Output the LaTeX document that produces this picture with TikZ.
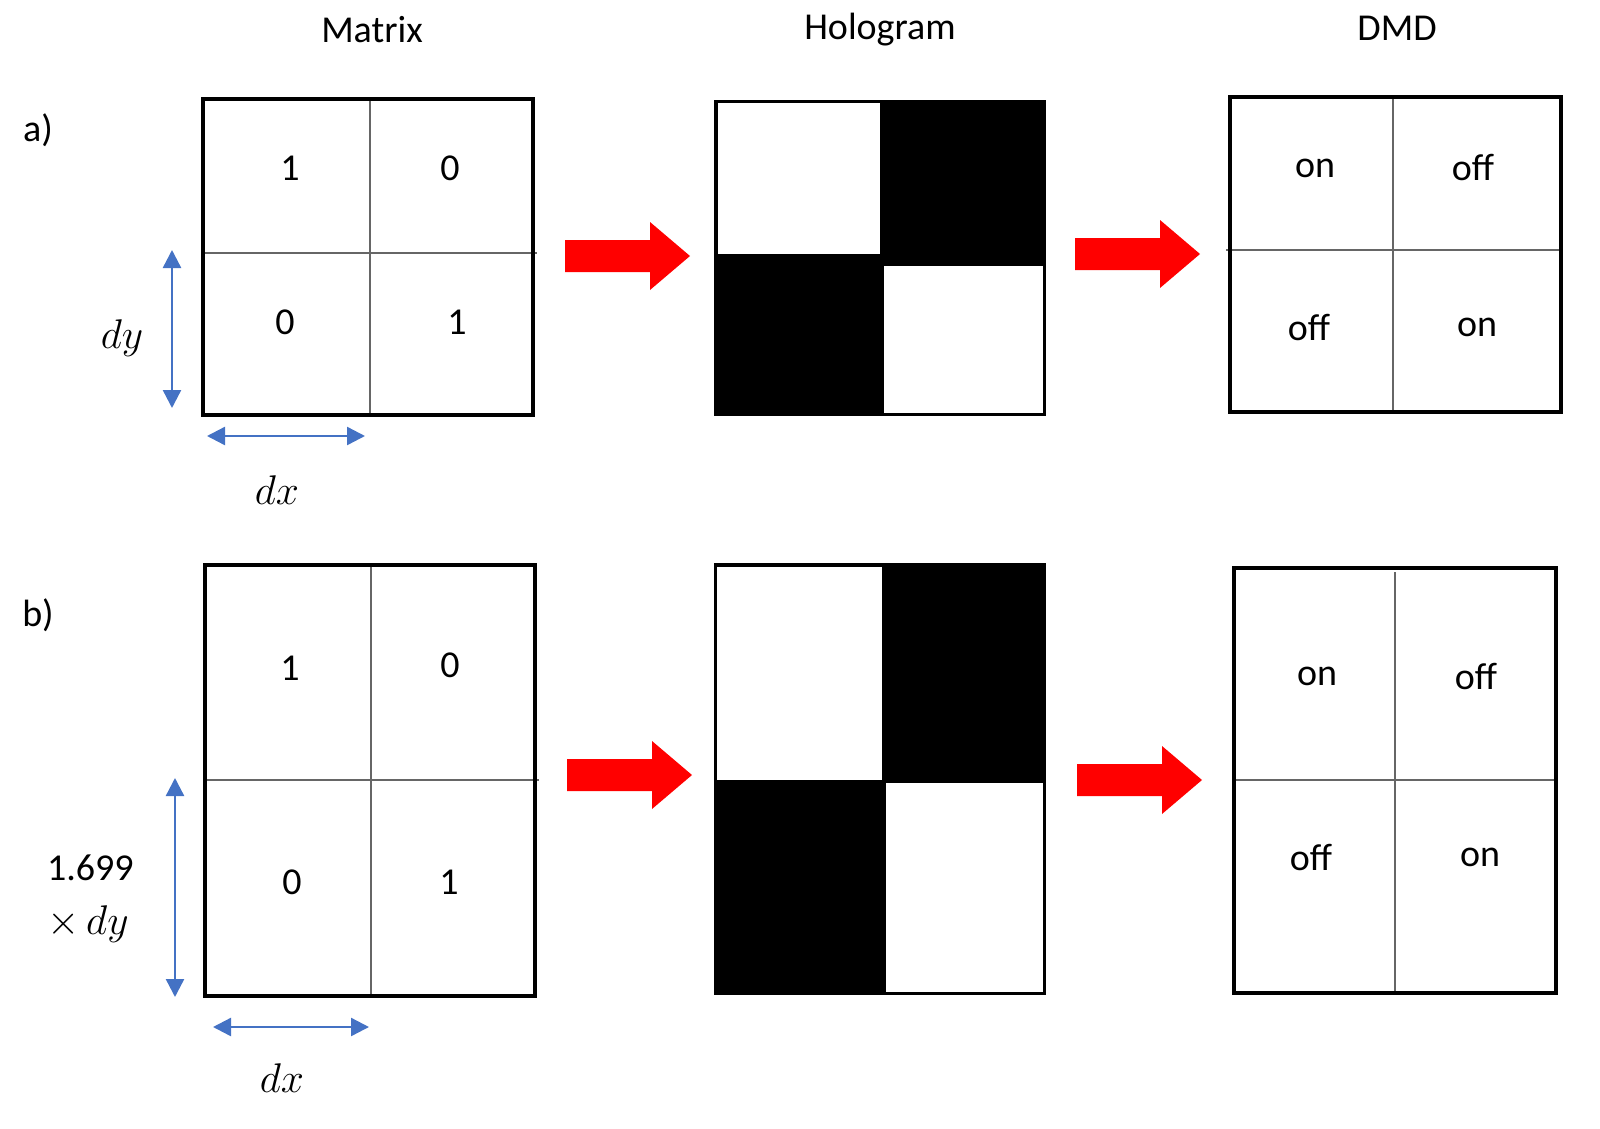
\documentclass[tikz,border=0pt]{standalone}
\usepackage{fontspec}
\setmainfont{Carlito}
\usetikzlibrary{arrows.meta}
\newcommand{\redarrow}[2]{\fill[red] (#1,#2-16) -- (#1+85,#2-16) -- (#1+85,#2-34) -- (#1+125,#2) -- (#1+85,#2+34) -- (#1+85,#2+16) -- (#1,#2+16) -- cycle;}
\begin{document}
\begin{tikzpicture}[x=0.5pt,y=-0.5pt,
  box/.style={draw=black,line width=1.6pt},
  grid/.style={draw=black!60,line width=1.1pt},
  txt/.style={font=\fontsize{19}{22}\selectfont},
  mth/.style={font=\fontsize{21}{24}\selectfont},
  blue/.style={draw={rgb,255:red,68;green,114;blue,196},line width=1.2pt,{Triangle[width=9pt,length=9pt]}-{Triangle[width=9pt,length=9pt]}}]
\path[use as bounding box] (0,0) rectangle (1600,1129);
\node[txt] (hm) at (372,30) {Matrix};
\node[txt] (hh) at (880,30) {Hologram};
\node[txt] (hd) at (1397,28) {DMD};
\node[txt] (la) at (38,130) {a)};
\node[txt] (lb) at (38,615) {b)};
\redarrow{565}{256}
\redarrow{1075}{254}
\redarrow{567}{775}
\redarrow{1077}{780}
% row a matrix
\draw[grid] (370,99) -- (370,415);
\draw[grid] (203,253) -- (537,253);
\draw[box] (203,99) rectangle (533,415);
\node[txt] (a11) at (290,168) {1};
\node[txt] (a12) at (450,168) {0};
\node[txt] (a21) at (285,322) {0};
\node[txt] (a22) at (457,322) {1};
\coordinate (dyt) at (172,250); \coordinate (dyb) at (172,408);
\draw[blue] (dyt) -- (dyb);
\node[mth] (dy) at (122,338) {$dy$};
\coordinate (dxl) at (207,436); \coordinate (dxr) at (365,436);
\draw[blue] (dxl) -- (dxr);
\node[mth] (dx) at (277,490) {$dx$};
% hologram a
\fill[black] (714,100) rectangle (1046,416);
\fill[white] (718,103) rectangle (880,254);
\fill[white] (884,266) rectangle (1043,413);
% dmd a
\draw[grid] (1393,97) -- (1393,412);
\draw[grid] (1226,250) -- (1561,250);
\draw[box] (1230,97) rectangle (1561,412);
\node[txt] at (1315,168) {on};
\node[txt] at (1473,168) {off};
\node[txt] at (1309,327) {off};
\node[txt] at (1477,327) {on};
% row b matrix
\draw[grid] (371,565) -- (371,996);
\draw[grid] (205,780) -- (539,780);
\draw[box] (205,565) rectangle (535,996);
\node[txt] at (290,668) {1};
\node[txt] at (450,665) {0};
\node[txt] at (292,882) {0};
\node[txt] at (449,882) {1};
\coordinate (byt) at (175,778); \coordinate (byb) at (175,997);
\draw[blue] (byt) -- (byb);
\node[txt,anchor=west] (lab1) at (40,868) {1.699};
\node[mth,anchor=west] (lab2) at (40,924) {$\times\,dy$};
\coordinate (bxl) at (213,1027); \coordinate (bxr) at (369,1027);
\draw[blue] (bxl) -- (bxr);
\node[mth] at (282,1078) {$dx$};
% hologram b
\fill[black] (714,563) rectangle (1046,995);
\fill[white] (717,567) rectangle (882,780);
\fill[white] (886,783) rectangle (1043,992);
% dmd b
\draw[grid] (1395,572) -- (1395,993);
\draw[grid] (1234,780) -- (1556,780);
\draw[box] (1234,568) rectangle (1556,993);
\node[txt] at (1317,676) {on};
\node[txt] at (1476,676) {off};
\node[txt] at (1311,857) {off};
\node[txt] at (1480,857) {on};
\end{tikzpicture}
\end{document}
